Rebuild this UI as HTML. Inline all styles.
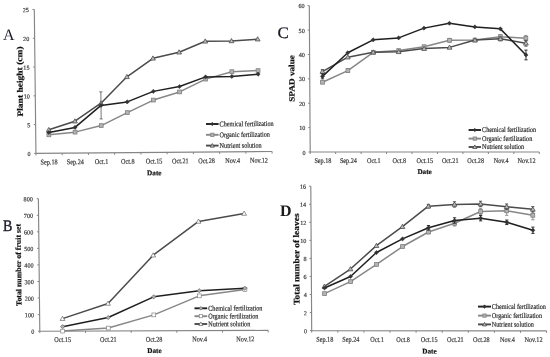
<!DOCTYPE html>
<html><head><meta charset="utf-8"><title>Figure</title>
<style>
html,body{margin:0;padding:0;background:#fff;}
body{width:550px;height:357px;overflow:hidden;}
svg{display:block;filter:blur(0.5px);}
text{font-family:"Liberation Serif","Times New Roman",serif;fill:#2a2a2a;text-rendering:geometricPrecision;}
.t{font-size:6.2px;fill:#333;stroke:#333;stroke-width:0.16px;}
.lg{font-size:6.2px;fill:#2a2a2a;stroke:#2a2a2a;stroke-width:0.16px;}
.b{font-weight:bold;fill:#111;stroke:#111;stroke-width:0.2px;}
.l{fill:#1a1a28;}
.lb{font-weight:bold;fill:#1a1a1a;}
</style></head><body>
<svg width="550" height="357" viewBox="0 0 550 357">
<rect width="550" height="357" fill="#ffffff"/>
<g id="pA"><path d="M34.3 9.5L35.95 153.4L272.1 151.5" fill="none" stroke="#858585" stroke-width="1.15"/><path d="M34.15 153.4H35.95" stroke="#858585" stroke-width="1"/><text transform="translate(30.55 156) rotate(-0.46) scale(1 1.0)" text-anchor="end" class="t">0</text><path d="M33.82 124.62H35.62" stroke="#858585" stroke-width="1"/><text transform="translate(30.22 127.22) rotate(-0.46) scale(1 1.0)" text-anchor="end" class="t">5</text><path d="M33.49 95.84H35.29" stroke="#858585" stroke-width="1"/><text transform="translate(29.89 98.44) rotate(-0.46) scale(1 1.0)" text-anchor="end" class="t">10</text><path d="M33.16 67.06H34.96" stroke="#858585" stroke-width="1"/><text transform="translate(29.56 69.66) rotate(-0.46) scale(1 1.0)" text-anchor="end" class="t">15</text><path d="M32.83 38.28H34.63" stroke="#858585" stroke-width="1"/><text transform="translate(29.23 40.88) rotate(-0.46) scale(1 1.0)" text-anchor="end" class="t">20</text><path d="M32.5 9.5H34.3" stroke="#858585" stroke-width="1"/><text transform="translate(28.9 12.1) rotate(-0.46) scale(1 1.0)" text-anchor="end" class="t">25</text><path d="M35.95 153.4V155.4" stroke="#858585" stroke-width="1"/><path d="M62.19 153.19V155.19" stroke="#858585" stroke-width="1"/><path d="M88.43 152.98V154.98" stroke="#858585" stroke-width="1"/><path d="M114.67 152.77V154.77" stroke="#858585" stroke-width="1"/><path d="M140.91 152.56V154.56" stroke="#858585" stroke-width="1"/><path d="M167.14 152.34V154.34" stroke="#858585" stroke-width="1"/><path d="M193.38 152.13V154.13" stroke="#858585" stroke-width="1"/><path d="M219.62 151.92V153.92" stroke="#858585" stroke-width="1"/><path d="M245.86 151.71V153.71" stroke="#858585" stroke-width="1"/><path d="M272.1 151.5V153.5" stroke="#858585" stroke-width="1"/><text transform="translate(49.07 164.39) rotate(-0.46) scale(1 1.18)" text-anchor="middle" class="t">Sep.18</text><text transform="translate(75.31 164.18) rotate(-0.46) scale(1 1.18)" text-anchor="middle" class="t">Sep.24</text><text transform="translate(101.55 163.97) rotate(-0.46) scale(1 1.18)" text-anchor="middle" class="t">Oct.1</text><text transform="translate(127.79 163.76) rotate(-0.46) scale(1 1.18)" text-anchor="middle" class="t">Oct.8</text><text transform="translate(154.03 163.55) rotate(-0.46) scale(1 1.18)" text-anchor="middle" class="t">Oct.15</text><text transform="translate(180.26 163.34) rotate(-0.46) scale(1 1.18)" text-anchor="middle" class="t">Oct.21</text><text transform="translate(206.5 163.13) rotate(-0.46) scale(1 1.18)" text-anchor="middle" class="t">Oct.28</text><text transform="translate(232.74 162.92) rotate(-0.46) scale(1 1.18)" text-anchor="middle" class="t">Nov.4</text><text transform="translate(258.98 162.71) rotate(-0.46) scale(1 1.18)" text-anchor="middle" class="t">Nov.12</text><text transform="translate(154.3 175.3) rotate(-0.46)" text-anchor="middle" class="b" style="font-size:7.2px">Date</text><text transform="translate(22.5 81.5) rotate(-90.66) scale(1.145 1)" text-anchor="middle" class="b" style="font-size:8.3px">Plant height (cm)</text><text transform="translate(3 39.8) scale(1 1)" class="l" style="font-size:16px;stroke:#1a1a28;stroke-width:0px">A</text><path d="M48.86 134.82L75.07 132.13L101.23 125.59L127.33 112.6L153.42 100.07L179.57 91.92L205.67 79.1L231.82 71.69L258.05 70.62" fill="none" stroke="#878787" stroke-width="1.5" stroke-linejoin="round"/><rect x="46.96" y="132.92" width="3.8" height="3.8" fill="#b4b4b4" stroke="#7e7e7e" stroke-width="0.8"/><rect x="73.17" y="130.23" width="3.8" height="3.8" fill="#b4b4b4" stroke="#7e7e7e" stroke-width="0.8"/><rect x="99.33" y="123.69" width="3.8" height="3.8" fill="#b4b4b4" stroke="#7e7e7e" stroke-width="0.8"/><rect x="125.43" y="110.7" width="3.8" height="3.8" fill="#b4b4b4" stroke="#7e7e7e" stroke-width="0.8"/><rect x="151.52" y="98.17" width="3.8" height="3.8" fill="#b4b4b4" stroke="#7e7e7e" stroke-width="0.8"/><rect x="177.67" y="90.02" width="3.8" height="3.8" fill="#b4b4b4" stroke="#7e7e7e" stroke-width="0.8"/><rect x="203.77" y="77.2" width="3.8" height="3.8" fill="#b4b4b4" stroke="#7e7e7e" stroke-width="0.8"/><rect x="229.92" y="69.79" width="3.8" height="3.8" fill="#b4b4b4" stroke="#7e7e7e" stroke-width="0.8"/><rect x="256.15" y="68.72" width="3.8" height="3.8" fill="#b4b4b4" stroke="#7e7e7e" stroke-width="0.8"/><path d="M48.8 129.81L74.94 121.2L100.98 103.2L126.92 76.8L152.95 58.28L179.12 52.2L205.23 41.28L231.47 40.9L257.69 39.13" fill="none" stroke="#4b4b4b" stroke-width="1.5" stroke-linejoin="round"/><path d="M48.8 127.41L51.2 131.61L46.4 131.61Z" fill="#bdbdbd" stroke="#4b4b4b" stroke-width="0.8"/><path d="M74.94 118.8L77.34 123L72.54 123Z" fill="#bdbdbd" stroke="#4b4b4b" stroke-width="0.8"/><path d="M100.98 100.8L103.38 105L98.58 105Z" fill="#bdbdbd" stroke="#4b4b4b" stroke-width="0.8"/><path d="M126.92 74.4L129.32 78.6L124.52 78.6Z" fill="#bdbdbd" stroke="#4b4b4b" stroke-width="0.8"/><path d="M152.95 55.88L155.35 60.08L150.55 60.08Z" fill="#bdbdbd" stroke="#4b4b4b" stroke-width="0.8"/><path d="M179.12 49.8L181.52 54L176.72 54Z" fill="#bdbdbd" stroke="#4b4b4b" stroke-width="0.8"/><path d="M205.23 38.88L207.63 43.08L202.83 43.08Z" fill="#bdbdbd" stroke="#4b4b4b" stroke-width="0.8"/><path d="M231.47 38.5L233.87 42.7L229.07 42.7Z" fill="#bdbdbd" stroke="#4b4b4b" stroke-width="0.8"/><path d="M257.69 36.73L260.09 40.93L255.29 40.93Z" fill="#bdbdbd" stroke="#4b4b4b" stroke-width="0.8"/><path d="M48.83 132.52L75.01 127.41L101 105.39L127.2 101.89L153.32 91.38L179.51 86.51L205.64 76.91L231.88 76.41L258.09 74.19" fill="none" stroke="#1f1f1f" stroke-width="1.5" stroke-linejoin="round"/><path d="M101.16 118.91L100.85 91.86M99.56 118.91H102.76M99.25 91.86H102.45" stroke="#666" stroke-width="0.9" fill="none"/><path d="M48.83 130.42L50.93 132.52L48.83 134.62L46.73 132.52Z" fill="#333" stroke="#333" stroke-width="0.5"/><path d="M75.01 125.31L77.11 127.41L75.01 129.51L72.91 127.41Z" fill="#333" stroke="#333" stroke-width="0.5"/><path d="M101 103.29L103.1 105.39L101 107.49L98.9 105.39Z" fill="#333" stroke="#333" stroke-width="0.5"/><path d="M127.2 99.79L129.3 101.89L127.2 103.99L125.1 101.89Z" fill="#333" stroke="#333" stroke-width="0.5"/><path d="M153.32 89.28L155.42 91.38L153.32 93.48L151.22 91.38Z" fill="#333" stroke="#333" stroke-width="0.5"/><path d="M179.51 84.41L181.61 86.51L179.51 88.61L177.41 86.51Z" fill="#333" stroke="#333" stroke-width="0.5"/><path d="M205.64 74.81L207.74 76.91L205.64 79.01L203.54 76.91Z" fill="#333" stroke="#333" stroke-width="0.5"/><path d="M231.88 74.31L233.98 76.41L231.88 78.51L229.78 76.41Z" fill="#333" stroke="#333" stroke-width="0.5"/><path d="M258.09 72.09L260.19 74.19L258.09 76.29L255.99 74.19Z" fill="#333" stroke="#333" stroke-width="0.5"/><path d="M206 124H218.6" stroke="#1f1f1f" stroke-width="1.9"/><path d="M212.3 122.22L214.09 124L212.3 125.78L210.52 124Z" fill="#333" stroke="#333" stroke-width="0.5"/><text transform="translate(219.6 126.4) rotate(-0.46) scale(1 1.18)" class="lg">Chemical fertilization</text><path d="M206 134.8H218.6" stroke="#878787" stroke-width="1.9"/><rect x="210.69" y="133.19" width="3.23" height="3.23" fill="#b4b4b4" stroke="#7e7e7e" stroke-width="0.8"/><text transform="translate(219.6 137.2) rotate(-0.46) scale(1 1.18)" class="lg">Organic fertilization</text><path d="M206 145.6H218.6" stroke="#4b4b4b" stroke-width="1.9"/><path d="M212.3 143.56L214.34 147.13L210.26 147.13Z" fill="#bdbdbd" stroke="#4b4b4b" stroke-width="0.8"/><text transform="translate(219.6 148) rotate(-0.46) scale(1 1.18)" class="lg">Nutrient solution</text></g><g id="pB"><path d="M38.4 198.7L39.8 331.2L268.2 330.4" fill="none" stroke="#858585" stroke-width="1.15"/><path d="M38 331.2H39.8" stroke="#858585" stroke-width="1"/><text transform="translate(34.3 333.8) rotate(-0.2) scale(1 1.0)" text-anchor="end" class="t">0</text><path d="M37.83 314.64H39.62" stroke="#858585" stroke-width="1"/><text transform="translate(34.12 317.24) rotate(-0.2) scale(1 1.0)" text-anchor="end" class="t">100</text><path d="M37.65 298.07H39.45" stroke="#858585" stroke-width="1"/><text transform="translate(33.95 300.68) rotate(-0.2) scale(1 1.0)" text-anchor="end" class="t">200</text><path d="M37.48 281.51H39.27" stroke="#858585" stroke-width="1"/><text transform="translate(33.77 284.11) rotate(-0.2) scale(1 1.0)" text-anchor="end" class="t">300</text><path d="M37.3 264.95H39.1" stroke="#858585" stroke-width="1"/><text transform="translate(33.6 267.55) rotate(-0.2) scale(1 1.0)" text-anchor="end" class="t">400</text><path d="M37.12 248.39H38.92" stroke="#858585" stroke-width="1"/><text transform="translate(33.42 250.99) rotate(-0.2) scale(1 1.0)" text-anchor="end" class="t">500</text><path d="M36.95 231.82H38.75" stroke="#858585" stroke-width="1"/><text transform="translate(33.25 234.42) rotate(-0.2) scale(1 1.0)" text-anchor="end" class="t">600</text><path d="M36.77 215.26H38.57" stroke="#858585" stroke-width="1"/><text transform="translate(33.07 217.86) rotate(-0.2) scale(1 1.0)" text-anchor="end" class="t">700</text><path d="M36.6 198.7H38.4" stroke="#858585" stroke-width="1"/><text transform="translate(32.9 201.3) rotate(-0.2) scale(1 1.0)" text-anchor="end" class="t">800</text><path d="M39.8 331.2V333.2" stroke="#858585" stroke-width="1"/><path d="M85.48 331.04V333.04" stroke="#858585" stroke-width="1"/><path d="M131.16 330.88V332.88" stroke="#858585" stroke-width="1"/><path d="M176.84 330.72V332.72" stroke="#858585" stroke-width="1"/><path d="M222.52 330.56V332.56" stroke="#858585" stroke-width="1"/><path d="M268.2 330.4V332.4" stroke="#858585" stroke-width="1"/><text transform="translate(62.64 342.02) rotate(-0.2) scale(1 1.18)" text-anchor="middle" class="t">Oct.15</text><text transform="translate(108.32 341.86) rotate(-0.2) scale(1 1.18)" text-anchor="middle" class="t">Oct.21</text><text transform="translate(154 341.7) rotate(-0.2) scale(1 1.18)" text-anchor="middle" class="t">Oct.28</text><text transform="translate(199.68 341.54) rotate(-0.2) scale(1 1.18)" text-anchor="middle" class="t">Nov.4</text><text transform="translate(245.36 341.38) rotate(-0.2) scale(1 1.18)" text-anchor="middle" class="t">Nov.12</text><text transform="translate(154.5 353) rotate(-0.2)" text-anchor="middle" class="b" style="font-size:7.2px">Date</text><text transform="translate(21 265) rotate(-90.61) scale(1.03 1)" text-anchor="middle" class="b" style="font-size:7.6px">Total number of fruit set</text><text transform="translate(3 230.7) scale(0.88 1)" class="l" style="font-size:16px;stroke:#1a1a28;stroke-width:0.4px">B</text><path d="M62.64 331.12L108.29 328.06L153.83 314.9L199.31 295.86L244.93 289.4" fill="none" stroke="#878787" stroke-width="1.5" stroke-linejoin="round"/><rect x="60.74" y="329.22" width="3.8" height="3.8" fill="#fff" stroke="#7e7e7e" stroke-width="0.65"/><rect x="106.39" y="326.16" width="3.8" height="3.8" fill="#fff" stroke="#7e7e7e" stroke-width="0.65"/><rect x="151.93" y="313" width="3.8" height="3.8" fill="#fff" stroke="#7e7e7e" stroke-width="0.65"/><rect x="197.41" y="293.96" width="3.8" height="3.8" fill="#fff" stroke="#7e7e7e" stroke-width="0.65"/><rect x="243.03" y="287.5" width="3.8" height="3.8" fill="#fff" stroke="#7e7e7e" stroke-width="0.65"/><path d="M62.51 318.62L108.03 303.47L153.2 255.19L198.53 221.43L244.12 213.47" fill="none" stroke="#4b4b4b" stroke-width="1.5" stroke-linejoin="round"/><path d="M62.51 316.22L64.91 320.42L60.11 320.42Z" fill="#fff" stroke="#4b4b4b" stroke-width="0.6"/><path d="M108.03 301.07L110.43 305.27L105.63 305.27Z" fill="#fff" stroke="#4b4b4b" stroke-width="0.6"/><path d="M153.2 252.79L155.6 256.99L150.8 256.99Z" fill="#fff" stroke="#4b4b4b" stroke-width="0.6"/><path d="M198.53 219.03L200.93 223.23L196.13 223.23Z" fill="#fff" stroke="#4b4b4b" stroke-width="0.6"/><path d="M244.12 211.07L246.52 215.27L241.72 215.27Z" fill="#fff" stroke="#4b4b4b" stroke-width="0.6"/><path d="M62.59 326.65L108.18 317.54L153.64 296.85L199.26 290.72L244.91 288.25" fill="none" stroke="#1f1f1f" stroke-width="1.5" stroke-linejoin="round"/><path d="M62.59 324.55L64.69 326.65L62.59 328.75L60.49 326.65Z" fill="#b0b0b0" stroke="#555" stroke-width="0.6"/><path d="M108.18 315.44L110.28 317.54L108.18 319.64L106.08 317.54Z" fill="#b0b0b0" stroke="#555" stroke-width="0.6"/><path d="M153.64 294.75L155.74 296.85L153.64 298.95L151.54 296.85Z" fill="#b0b0b0" stroke="#555" stroke-width="0.6"/><path d="M199.26 288.62L201.36 290.72L199.26 292.82L197.16 290.72Z" fill="#b0b0b0" stroke="#555" stroke-width="0.6"/><path d="M244.91 286.15L247.01 288.25L244.91 290.35L242.81 288.25Z" fill="#b0b0b0" stroke="#555" stroke-width="0.6"/><path d="M194.5 308.3H207.2" stroke="#1f1f1f" stroke-width="1.9"/><path d="M200.85 306.51L202.63 308.3L200.85 310.09L199.06 308.3Z" fill="#b0b0b0" stroke="#555" stroke-width="0.6"/><text transform="translate(208.2 310.7) rotate(-0.2) scale(1 1.18)" class="lg">Chemical fertilization</text><path d="M194.5 316.2H207.2" stroke="#878787" stroke-width="1.9"/><rect x="199.23" y="314.58" width="3.23" height="3.23" fill="#fff" stroke="#7e7e7e" stroke-width="0.65"/><text transform="translate(208.2 318.6) rotate(-0.2) scale(1 1.18)" class="lg">Organic fertilization</text><path d="M194.5 324H207.2" stroke="#4b4b4b" stroke-width="1.9"/><path d="M200.85 321.96L202.89 325.53L198.81 325.53Z" fill="#fff" stroke="#4b4b4b" stroke-width="0.6"/><text transform="translate(208.2 326.4) rotate(-0.2) scale(1 1.18)" class="lg">Nutrient solution</text></g><g id="pC"><path d="M309.3 5.7L310.2 152L539.3 152" fill="none" stroke="#858585" stroke-width="1.15"/><path d="M308.4 152H310.2" stroke="#858585" stroke-width="1"/><text transform="translate(305.5 154.6) rotate(0) scale(1 1.0)" text-anchor="end" class="t">0</text><path d="M308.25 127.62H310.05" stroke="#858585" stroke-width="1"/><text transform="translate(305.35 130.22) rotate(0) scale(1 1.0)" text-anchor="end" class="t">10</text><path d="M308.1 103.23H309.9" stroke="#858585" stroke-width="1"/><text transform="translate(305.2 105.83) rotate(0) scale(1 1.0)" text-anchor="end" class="t">20</text><path d="M307.95 78.85H309.75" stroke="#858585" stroke-width="1"/><text transform="translate(305.05 81.45) rotate(0) scale(1 1.0)" text-anchor="end" class="t">30</text><path d="M307.8 54.47H309.6" stroke="#858585" stroke-width="1"/><text transform="translate(304.9 57.07) rotate(0) scale(1 1.0)" text-anchor="end" class="t">40</text><path d="M307.65 30.08H309.45" stroke="#858585" stroke-width="1"/><text transform="translate(304.75 32.68) rotate(0) scale(1 1.0)" text-anchor="end" class="t">50</text><path d="M307.5 5.7H309.3" stroke="#858585" stroke-width="1"/><text transform="translate(304.6 8.3) rotate(0) scale(1 1.0)" text-anchor="end" class="t">60</text><path d="M310.2 152V154" stroke="#858585" stroke-width="1"/><path d="M335.66 152V154" stroke="#858585" stroke-width="1"/><path d="M361.11 152V154" stroke="#858585" stroke-width="1"/><path d="M386.57 152V154" stroke="#858585" stroke-width="1"/><path d="M412.02 152V154" stroke="#858585" stroke-width="1"/><path d="M437.48 152V154" stroke="#858585" stroke-width="1"/><path d="M462.93 152V154" stroke="#858585" stroke-width="1"/><path d="M488.39 152V154" stroke="#858585" stroke-width="1"/><path d="M513.84 152V154" stroke="#858585" stroke-width="1"/><path d="M539.3 152V154" stroke="#858585" stroke-width="1"/><text transform="translate(322.93 163.1) rotate(0) scale(1 1.18)" text-anchor="middle" class="t">Sep.18</text><text transform="translate(348.38 163.1) rotate(0) scale(1 1.18)" text-anchor="middle" class="t">Sep.24</text><text transform="translate(373.84 163.1) rotate(0) scale(1 1.18)" text-anchor="middle" class="t">Oct.1</text><text transform="translate(399.29 163.1) rotate(0) scale(1 1.18)" text-anchor="middle" class="t">Oct.8</text><text transform="translate(424.75 163.1) rotate(0) scale(1 1.18)" text-anchor="middle" class="t">Oct.15</text><text transform="translate(450.21 163.1) rotate(0) scale(1 1.18)" text-anchor="middle" class="t">Oct.21</text><text transform="translate(475.66 163.1) rotate(0) scale(1 1.18)" text-anchor="middle" class="t">Oct.28</text><text transform="translate(501.12 163.1) rotate(0) scale(1 1.18)" text-anchor="middle" class="t">Nov.4</text><text transform="translate(526.57 163.1) rotate(0) scale(1 1.18)" text-anchor="middle" class="t">Nov.12</text><text transform="translate(424.6 174.4) rotate(0)" text-anchor="middle" class="b" style="font-size:7.2px">Date</text><text transform="translate(294.4 78.45) rotate(-90.35) scale(1.15 1)" text-anchor="middle" class="b" style="font-size:8.0px">SPAD value</text><text transform="translate(277.5 37.9) scale(1.06 1)" class="l" style="font-size:16px;stroke:#1a1a28;stroke-width:0.25px">C</text><path d="M322.5 82.26L347.88 70.56L373.23 52.27L398.67 50.57L424.1 46.66L449.52 40.32L474.97 40.08L500.41 36.67L525.87 38.37" fill="none" stroke="#878787" stroke-width="1.5" stroke-linejoin="round"/><path d="M525.89 41.3L525.86 35.45M524.29 41.3H527.49M524.26 35.45H527.46" stroke="#878787" stroke-width="0.9" fill="none"/><path d="M500.42 38.62L500.4 34.72M498.82 38.62H502.02M498.8 34.72H502" stroke="#878787" stroke-width="0.9" fill="none"/><path d="M449.53 42.27L449.51 38.37M447.93 42.27H451.13M447.91 38.37H451.11" stroke="#878787" stroke-width="0.9" fill="none"/><path d="M347.89 72.51L347.87 68.61M346.29 72.51H349.49M346.27 68.61H349.47" stroke="#878787" stroke-width="0.9" fill="none"/><rect x="320.6" y="80.36" width="3.8" height="3.8" fill="#b4b4b4" stroke="#7e7e7e" stroke-width="0.8"/><rect x="345.98" y="68.66" width="3.8" height="3.8" fill="#b4b4b4" stroke="#7e7e7e" stroke-width="0.8"/><rect x="371.33" y="50.37" width="3.8" height="3.8" fill="#b4b4b4" stroke="#7e7e7e" stroke-width="0.8"/><rect x="396.77" y="48.67" width="3.8" height="3.8" fill="#b4b4b4" stroke="#7e7e7e" stroke-width="0.8"/><rect x="422.2" y="44.76" width="3.8" height="3.8" fill="#b4b4b4" stroke="#7e7e7e" stroke-width="0.8"/><rect x="447.62" y="38.42" width="3.8" height="3.8" fill="#b4b4b4" stroke="#7e7e7e" stroke-width="0.8"/><rect x="473.07" y="38.18" width="3.8" height="3.8" fill="#b4b4b4" stroke="#7e7e7e" stroke-width="0.8"/><rect x="498.51" y="34.77" width="3.8" height="3.8" fill="#b4b4b4" stroke="#7e7e7e" stroke-width="0.8"/><rect x="523.97" y="36.47" width="3.8" height="3.8" fill="#b4b4b4" stroke="#7e7e7e" stroke-width="0.8"/><path d="M322.43 71.53L347.8 57.15L373.23 52.27L398.68 51.78L424.11 48.61L449.56 47.4L474.97 40.08L500.42 38.86L525.9 43.25" fill="none" stroke="#4b4b4b" stroke-width="1.5" stroke-linejoin="round"/><path d="M525.92 46.18L525.89 40.32M524.32 46.18H527.52M524.29 40.32H527.49" stroke="#4b4b4b" stroke-width="0.9" fill="none"/><path d="M500.43 40.81L500.41 36.91M498.83 40.81H502.03M498.81 36.91H502.01" stroke="#4b4b4b" stroke-width="0.9" fill="none"/><path d="M322.44 73.49L322.42 69.58M320.84 73.49H324.04M320.82 69.58H324.02" stroke="#4b4b4b" stroke-width="0.9" fill="none"/><path d="M322.43 69.13L324.83 73.33L320.03 73.33Z" fill="#bdbdbd" stroke="#4b4b4b" stroke-width="0.8"/><path d="M347.8 54.75L350.2 58.95L345.4 58.95Z" fill="#bdbdbd" stroke="#4b4b4b" stroke-width="0.8"/><path d="M373.23 49.87L375.63 54.07L370.83 54.07Z" fill="#bdbdbd" stroke="#4b4b4b" stroke-width="0.8"/><path d="M398.68 49.38L401.08 53.58L396.28 53.58Z" fill="#bdbdbd" stroke="#4b4b4b" stroke-width="0.8"/><path d="M424.11 46.21L426.51 50.41L421.71 50.41Z" fill="#bdbdbd" stroke="#4b4b4b" stroke-width="0.8"/><path d="M449.56 45L451.96 49.2L447.16 49.2Z" fill="#bdbdbd" stroke="#4b4b4b" stroke-width="0.8"/><path d="M474.97 37.68L477.37 41.88L472.57 41.88Z" fill="#bdbdbd" stroke="#4b4b4b" stroke-width="0.8"/><path d="M500.42 36.46L502.82 40.66L498.02 40.66Z" fill="#bdbdbd" stroke="#4b4b4b" stroke-width="0.8"/><path d="M525.9 40.85L528.3 45.05L523.5 45.05Z" fill="#bdbdbd" stroke="#4b4b4b" stroke-width="0.8"/><path d="M322.46 76.41L347.77 52.76L373.15 39.84L398.59 37.89L423.99 28.13L449.41 23.26L474.89 26.91L500.36 28.86L525.98 54.95" fill="none" stroke="#1f1f1f" stroke-width="1.5" stroke-linejoin="round"/><path d="M526.01 59.83L525.95 50.08M524.41 59.83H527.61M524.35 50.08H527.55" stroke="#1f1f1f" stroke-width="0.9" fill="none"/><path d="M322.48 78.85L322.45 73.97M320.88 78.85H324.08M320.85 73.97H324.05" stroke="#1f1f1f" stroke-width="0.9" fill="none"/><path d="M322.46 74.31L324.56 76.41L322.46 78.51L320.36 76.41Z" fill="#333" stroke="#333" stroke-width="0.5"/><path d="M347.77 50.66L349.87 52.76L347.77 54.86L345.67 52.76Z" fill="#333" stroke="#333" stroke-width="0.5"/><path d="M373.15 37.74L375.25 39.84L373.15 41.94L371.05 39.84Z" fill="#333" stroke="#333" stroke-width="0.5"/><path d="M398.59 35.79L400.69 37.89L398.59 39.99L396.49 37.89Z" fill="#333" stroke="#333" stroke-width="0.5"/><path d="M423.99 26.03L426.09 28.13L423.99 30.23L421.89 28.13Z" fill="#333" stroke="#333" stroke-width="0.5"/><path d="M449.41 21.16L451.51 23.26L449.41 25.36L447.31 23.26Z" fill="#333" stroke="#333" stroke-width="0.5"/><path d="M474.89 24.81L476.99 26.91L474.89 29.01L472.79 26.91Z" fill="#333" stroke="#333" stroke-width="0.5"/><path d="M500.36 26.76L502.46 28.86L500.36 30.96L498.26 28.86Z" fill="#333" stroke="#333" stroke-width="0.5"/><path d="M525.98 52.85L528.08 54.95L525.98 57.05L523.88 54.95Z" fill="#333" stroke="#333" stroke-width="0.5"/><path d="M468.6 130H481" stroke="#1f1f1f" stroke-width="1.9"/><path d="M474.8 128.22L476.59 130L474.8 131.78L473.01 130Z" fill="#333" stroke="#333" stroke-width="0.5"/><text transform="translate(482 132.4) rotate(0) scale(1 1.18)" class="lg">Chemical fertilization</text><path d="M468.6 138.6H481" stroke="#878787" stroke-width="1.9"/><rect x="473.19" y="136.98" width="3.23" height="3.23" fill="#b4b4b4" stroke="#7e7e7e" stroke-width="0.8"/><text transform="translate(482 141) rotate(0) scale(1 1.18)" class="lg">Organic fertilization</text><path d="M468.6 147H481" stroke="#4b4b4b" stroke-width="1.9"/><path d="M474.8 144.96L476.84 148.53L472.76 148.53Z" fill="#bdbdbd" stroke="#4b4b4b" stroke-width="0.8"/><text transform="translate(482 149.4) rotate(0) scale(1 1.18)" class="lg">Nutrient solution</text></g><g id="pD"><path d="M310.8 186.2L311.7 330.6L546.6 330.9" fill="none" stroke="#858585" stroke-width="1.15"/><path d="M309.9 330.6H311.7" stroke="#858585" stroke-width="1"/><text transform="translate(307 333.2) rotate(0.07) scale(1 1.0)" text-anchor="end" class="t">0</text><path d="M309.79 312.55H311.59" stroke="#858585" stroke-width="1"/><text transform="translate(306.89 315.15) rotate(0.07) scale(1 1.0)" text-anchor="end" class="t">2</text><path d="M309.68 294.5H311.48" stroke="#858585" stroke-width="1"/><text transform="translate(306.78 297.1) rotate(0.07) scale(1 1.0)" text-anchor="end" class="t">4</text><path d="M309.56 276.45H311.36" stroke="#858585" stroke-width="1"/><text transform="translate(306.66 279.05) rotate(0.07) scale(1 1.0)" text-anchor="end" class="t">6</text><path d="M309.45 258.4H311.25" stroke="#858585" stroke-width="1"/><text transform="translate(306.55 261) rotate(0.07) scale(1 1.0)" text-anchor="end" class="t">8</text><path d="M309.34 240.35H311.14" stroke="#858585" stroke-width="1"/><text transform="translate(306.44 242.95) rotate(0.07) scale(1 1.0)" text-anchor="end" class="t">10</text><path d="M309.22 222.3H311.02" stroke="#858585" stroke-width="1"/><text transform="translate(306.32 224.9) rotate(0.07) scale(1 1.0)" text-anchor="end" class="t">12</text><path d="M309.11 204.25H310.91" stroke="#858585" stroke-width="1"/><text transform="translate(306.21 206.85) rotate(0.07) scale(1 1.0)" text-anchor="end" class="t">14</text><path d="M309 186.2H310.8" stroke="#858585" stroke-width="1"/><text transform="translate(306.1 188.8) rotate(0.07) scale(1 1.0)" text-anchor="end" class="t">16</text><path d="M311.7 330.6V332.6" stroke="#858585" stroke-width="1"/><path d="M337.8 330.63V332.63" stroke="#858585" stroke-width="1"/><path d="M363.9 330.67V332.67" stroke="#858585" stroke-width="1"/><path d="M390 330.7V332.7" stroke="#858585" stroke-width="1"/><path d="M416.1 330.73V332.73" stroke="#858585" stroke-width="1"/><path d="M442.2 330.77V332.77" stroke="#858585" stroke-width="1"/><path d="M468.3 330.8V332.8" stroke="#858585" stroke-width="1"/><path d="M494.4 330.83V332.83" stroke="#858585" stroke-width="1"/><path d="M520.5 330.87V332.87" stroke="#858585" stroke-width="1"/><path d="M546.6 330.9V332.9" stroke="#858585" stroke-width="1"/><text transform="translate(324.75 341.82) rotate(0.07) scale(1 1.18)" text-anchor="middle" class="t">Sep.18</text><text transform="translate(350.85 341.85) rotate(0.07) scale(1 1.18)" text-anchor="middle" class="t">Sep.24</text><text transform="translate(376.95 341.88) rotate(0.07) scale(1 1.18)" text-anchor="middle" class="t">Oct.1</text><text transform="translate(403.05 341.92) rotate(0.07) scale(1 1.18)" text-anchor="middle" class="t">Oct.8</text><text transform="translate(429.15 341.95) rotate(0.07) scale(1 1.18)" text-anchor="middle" class="t">Oct.15</text><text transform="translate(455.25 341.98) rotate(0.07) scale(1 1.18)" text-anchor="middle" class="t">Oct.21</text><text transform="translate(481.35 342.02) rotate(0.07) scale(1 1.18)" text-anchor="middle" class="t">Oct.28</text><text transform="translate(507.45 342.05) rotate(0.07) scale(1 1.18)" text-anchor="middle" class="t">Nov.4</text><text transform="translate(533.55 342.08) rotate(0.07) scale(1 1.18)" text-anchor="middle" class="t">Nov.12</text><text transform="translate(429.5 353.6) rotate(0.07)" text-anchor="middle" class="b" style="font-size:7.2px">Date</text><text transform="translate(299.2 259.15) rotate(-90.36) scale(1.097 1)" text-anchor="middle" class="b" style="font-size:8.6px">Total number of leaves</text><text transform="translate(279.9 215.6) scale(1 1)" class="lb" style="font-size:16px;stroke:#1a1a28;stroke-width:0px">D</text><path d="M324.52 293.61L350.54 281.64L376.54 264.44L402.53 246.51L428.53 232.02L454.58 223.3L480.61 211.51L506.7 210.82L532.83 215.27" fill="none" stroke="#878787" stroke-width="1.5" stroke-linejoin="round"/><path d="M428.55 233.82L428.52 230.21M426.95 233.82H430.15M426.92 230.21H430.12" stroke="#878787" stroke-width="0.9" fill="none"/><path d="M454.6 226L454.56 220.59M453 226H456.2M452.96 220.59H456.16" stroke="#878787" stroke-width="0.9" fill="none"/><path d="M480.63 214.66L480.59 208.35M479.03 214.66H482.23M478.99 208.35H482.19" stroke="#878787" stroke-width="0.9" fill="none"/><path d="M506.73 215.33L506.67 206.3M505.13 215.33H508.33M505.07 206.3H508.27" stroke="#878787" stroke-width="0.9" fill="none"/><path d="M532.86 219.79L532.8 210.76M531.26 219.79H534.46M531.2 210.76H534.4" stroke="#878787" stroke-width="0.9" fill="none"/><rect x="322.62" y="291.71" width="3.8" height="3.8" fill="#b4b4b4" stroke="#7e7e7e" stroke-width="0.8"/><rect x="348.64" y="279.74" width="3.8" height="3.8" fill="#b4b4b4" stroke="#7e7e7e" stroke-width="0.8"/><rect x="374.64" y="262.54" width="3.8" height="3.8" fill="#b4b4b4" stroke="#7e7e7e" stroke-width="0.8"/><rect x="400.63" y="244.61" width="3.8" height="3.8" fill="#b4b4b4" stroke="#7e7e7e" stroke-width="0.8"/><rect x="426.63" y="230.12" width="3.8" height="3.8" fill="#b4b4b4" stroke="#7e7e7e" stroke-width="0.8"/><rect x="452.68" y="221.4" width="3.8" height="3.8" fill="#b4b4b4" stroke="#7e7e7e" stroke-width="0.8"/><rect x="478.71" y="209.61" width="3.8" height="3.8" fill="#b4b4b4" stroke="#7e7e7e" stroke-width="0.8"/><rect x="504.8" y="208.92" width="3.8" height="3.8" fill="#b4b4b4" stroke="#7e7e7e" stroke-width="0.8"/><rect x="530.93" y="213.37" width="3.8" height="3.8" fill="#b4b4b4" stroke="#7e7e7e" stroke-width="0.8"/><path d="M324.47 286.39L350.47 269.01L376.42 245.67L402.4 226.66L428.37 206.2L454.46 204.43L480.56 203.93L506.68 206.67L532.79 209.32" fill="none" stroke="#4b4b4b" stroke-width="1.5" stroke-linejoin="round"/><path d="M428.38 208.01L428.36 204.4M426.78 208.01H429.99M426.76 204.4H429.96" stroke="#4b4b4b" stroke-width="0.9" fill="none"/><path d="M454.48 207.14L454.45 201.73M452.88 207.14H456.08M452.85 201.73H456.05" stroke="#4b4b4b" stroke-width="0.9" fill="none"/><path d="M480.58 206.63L480.54 201.22M478.98 206.63H482.18M478.94 201.22H482.14" stroke="#4b4b4b" stroke-width="0.9" fill="none"/><path d="M506.69 209.37L506.66 203.96M505.09 209.37H508.29M505.06 203.96H508.26" stroke="#4b4b4b" stroke-width="0.9" fill="none"/><path d="M532.81 212.02L532.78 206.61M531.21 212.02H534.41M531.18 206.61H534.38" stroke="#4b4b4b" stroke-width="0.9" fill="none"/><path d="M324.47 283.99L326.87 288.19L322.07 288.19Z" fill="#bdbdbd" stroke="#4b4b4b" stroke-width="0.8"/><path d="M350.47 266.61L352.87 270.81L348.07 270.81Z" fill="#bdbdbd" stroke="#4b4b4b" stroke-width="0.8"/><path d="M376.42 243.27L378.82 247.47L374.02 247.47Z" fill="#bdbdbd" stroke="#4b4b4b" stroke-width="0.8"/><path d="M402.4 224.26L404.8 228.46L400 228.46Z" fill="#bdbdbd" stroke="#4b4b4b" stroke-width="0.8"/><path d="M428.37 203.8L430.77 208L425.97 208Z" fill="#bdbdbd" stroke="#4b4b4b" stroke-width="0.8"/><path d="M454.46 202.03L456.86 206.23L452.06 206.23Z" fill="#bdbdbd" stroke="#4b4b4b" stroke-width="0.8"/><path d="M480.56 201.53L482.96 205.73L478.16 205.73Z" fill="#bdbdbd" stroke="#4b4b4b" stroke-width="0.8"/><path d="M506.68 204.27L509.08 208.47L504.28 208.47Z" fill="#bdbdbd" stroke="#4b4b4b" stroke-width="0.8"/><path d="M532.79 206.92L535.19 211.12L530.39 211.12Z" fill="#bdbdbd" stroke="#4b4b4b" stroke-width="0.8"/><path d="M324.48 288.02L350.51 276.5L376.46 252.53L402.48 238.93L428.51 227.77L454.56 220.5L480.65 218.18L506.77 222.28L532.92 230.25" fill="none" stroke="#1f1f1f" stroke-width="1.5" stroke-linejoin="round"/><path d="M428.52 230.03L428.49 225.52M426.92 230.03H430.12M426.89 225.52H430.09" stroke="#1f1f1f" stroke-width="0.9" fill="none"/><path d="M454.58 223.21L454.55 217.79M452.98 223.21H456.18M452.95 217.79H456.15" stroke="#1f1f1f" stroke-width="0.9" fill="none"/><path d="M480.66 220.89L480.63 215.48M479.06 220.89H482.26M479.03 215.48H482.23" stroke="#1f1f1f" stroke-width="0.9" fill="none"/><path d="M506.79 224.54L506.76 220.02M505.19 224.54H508.39M505.16 220.02H508.36" stroke="#1f1f1f" stroke-width="0.9" fill="none"/><path d="M532.94 233.41L532.9 227.1M531.34 233.41H534.54M531.3 227.1H534.5" stroke="#1f1f1f" stroke-width="0.9" fill="none"/><path d="M324.48 285.92L326.58 288.02L324.48 290.12L322.38 288.02Z" fill="#333" stroke="#333" stroke-width="0.5"/><path d="M350.51 274.4L352.61 276.5L350.51 278.6L348.41 276.5Z" fill="#333" stroke="#333" stroke-width="0.5"/><path d="M376.46 250.43L378.56 252.53L376.46 254.63L374.36 252.53Z" fill="#333" stroke="#333" stroke-width="0.5"/><path d="M402.48 236.83L404.58 238.93L402.48 241.03L400.38 238.93Z" fill="#333" stroke="#333" stroke-width="0.5"/><path d="M428.51 225.67L430.61 227.77L428.51 229.87L426.41 227.77Z" fill="#333" stroke="#333" stroke-width="0.5"/><path d="M454.56 218.4L456.66 220.5L454.56 222.6L452.46 220.5Z" fill="#333" stroke="#333" stroke-width="0.5"/><path d="M480.65 216.08L482.75 218.18L480.65 220.28L478.55 218.18Z" fill="#333" stroke="#333" stroke-width="0.5"/><path d="M506.77 220.18L508.87 222.28L506.77 224.38L504.67 222.28Z" fill="#333" stroke="#333" stroke-width="0.5"/><path d="M532.92 228.15L535.02 230.25L532.92 232.35L530.82 230.25Z" fill="#333" stroke="#333" stroke-width="0.5"/><path d="M478 306.6H491" stroke="#1f1f1f" stroke-width="1.9"/><path d="M484.5 304.81L486.29 306.6L484.5 308.39L482.71 306.6Z" fill="#333" stroke="#333" stroke-width="0.5"/><text transform="translate(491.8 309) rotate(0.07) scale(1 1.18)" class="lg">Chemical fertilization</text><path d="M478 315.6H491" stroke="#878787" stroke-width="1.9"/><rect x="482.88" y="313.99" width="3.23" height="3.23" fill="#b4b4b4" stroke="#7e7e7e" stroke-width="0.8"/><text transform="translate(491.8 318) rotate(0.07) scale(1 1.18)" class="lg">Organic fertilization</text><path d="M478 324.4H491" stroke="#4b4b4b" stroke-width="1.9"/><path d="M484.5 322.36L486.54 325.93L482.46 325.93Z" fill="#bdbdbd" stroke="#4b4b4b" stroke-width="0.8"/><text transform="translate(491.8 326.8) rotate(0.07) scale(1 1.18)" class="lg">Nutrient solution</text></g>
</svg>
</body></html>
